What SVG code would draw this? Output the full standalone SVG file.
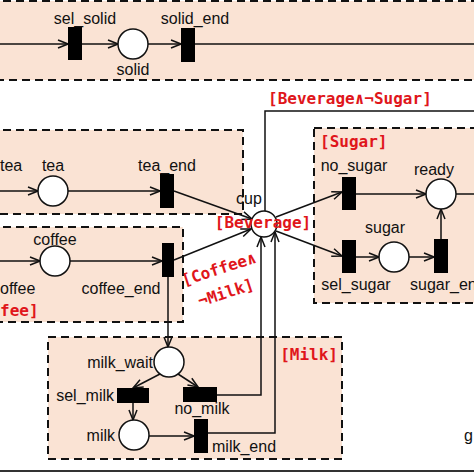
<svg xmlns="http://www.w3.org/2000/svg" width="474" height="474" viewBox="0 0 474 474">
<style>
.box{fill:#FAE3D4;stroke:#111;stroke-width:2;stroke-dasharray:8 5}
.pl{fill:#fff;stroke:#111;stroke-width:1.5}
.tr{fill:#000}
.arc{fill:none;stroke:#111;stroke-width:1.5}
.lb{font-family:"Liberation Sans",Arial,sans-serif;font-size:16px;fill:#111}
.rd{font-family:"DejaVu Sans Mono","Liberation Mono",monospace;font-weight:bold;font-size:16px;fill:#E0161B}
</style>
<defs>
<marker id="ah" markerWidth="12" markerHeight="10" refX="11" refY="5" orient="auto" markerUnits="userSpaceOnUse">
<path d="M1,1 L11,5 L1,9" fill="none" stroke="#111" stroke-width="1.5"/>
</marker>
</defs>
<rect width="474" height="474" fill="#fff"/>
<g id="boxes">
<rect class="box" x="-10" y="1" width="494" height="79"/>
<rect class="box" x="-10" y="130" width="253" height="84"/>
<rect class="box" x="-10" y="227" width="193" height="95"/>
<rect class="box" x="314" y="128" width="200" height="175"/>
<rect class="box" x="48" y="337" width="294" height="122"/>
</g>
<line x1="0" y1="471" x2="474" y2="471" stroke="#333" stroke-width="2"/>
<g id="connectors">
<line class="arc" x1="0" y1="44" x2="68" y2="44" marker-end="url(#ah)"/>
<line class="arc" x1="82" y1="44" x2="118" y2="44" marker-end="url(#ah)"/>
<line class="arc" x1="148" y1="44" x2="181" y2="44" marker-end="url(#ah)"/>
<line class="arc" x1="195" y1="44" x2="474" y2="44"/>
<line class="arc" x1="0" y1="191" x2="38" y2="191" marker-end="url(#ah)"/>
<line class="arc" x1="68" y1="191" x2="160" y2="191" marker-end="url(#ah)"/>
<line class="arc" x1="0" y1="261" x2="40" y2="261" marker-end="url(#ah)"/>
<line class="arc" x1="70" y1="261" x2="162" y2="261" marker-end="url(#ah)"/>
<line class="arc" x1="174" y1="191" x2="252" y2="219" marker-end="url(#ah)"/>
<line class="arc" x1="174" y1="260" x2="251" y2="229" marker-end="url(#ah)"/>
<line class="arc" x1="168" y1="277" x2="168" y2="347" marker-end="url(#ah)"/>
<line class="arc" x1="160" y1="374" x2="133" y2="388" marker-end="url(#ah)"/>
<line class="arc" x1="178" y1="374" x2="198" y2="387" marker-end="url(#ah)"/>
<line class="arc" x1="133" y1="403" x2="133" y2="420" marker-end="url(#ah)"/>
<line class="arc" x1="149" y1="436" x2="194" y2="436" marker-end="url(#ah)"/>
<polyline class="arc" points="217,395 261,395 261,237" marker-end="url(#ah)"/>
<polyline class="arc" points="208,433 275,433 275,232" marker-end="url(#ah)"/>
<polyline class="arc" points="265,211 265,111 474,111"/>
<line class="arc" x1="276" y1="217" x2="342" y2="192" marker-end="url(#ah)"/>
<line class="arc" x1="276" y1="231" x2="342" y2="256" marker-end="url(#ah)"/>
<line class="arc" x1="356" y1="194" x2="426" y2="194" marker-end="url(#ah)"/>
<line class="arc" x1="456" y1="194" x2="474" y2="194"/>
<line class="arc" x1="356" y1="257" x2="379" y2="257" marker-end="url(#ah)"/>
<line class="arc" x1="409" y1="257" x2="434" y2="257" marker-end="url(#ah)"/>
<line class="arc" x1="441" y1="239" x2="441" y2="209" marker-end="url(#ah)"/>
</g>
<g id="sel_solid"><rect class="tr" x="68" y="27" width="14" height="33"/><text class="lb" x="85" y="24" text-anchor="middle">sel_solid</text></g>
<g id="solid"><circle class="pl" cx="133" cy="44" r="15"/><text class="lb" x="133" y="75" text-anchor="middle">solid</text></g>
<g id="solid_end"><rect class="tr" x="181" y="28" width="14" height="34"/><text class="lb" x="195" y="24" text-anchor="middle">solid_end</text></g>
<g id="tea_box_label"><text class="lb" x="0" y="171">tea</text></g>
<g id="tea"><circle class="pl" cx="53" cy="191" r="15"/><text class="lb" x="53" y="171" text-anchor="middle">tea</text></g>
<g id="tea_end"><rect class="tr" x="160" y="174" width="14" height="34"/><text class="lb" x="167" y="171" text-anchor="middle">tea_end</text></g>
<g id="coffee_box_label"><text class="lb" x="0" y="294">offee</text><text class="rd" x="0" y="316">fee]</text></g>
<g id="coffee"><circle class="pl" cx="55" cy="261" r="15"/><text class="lb" x="55" y="245" text-anchor="middle">coffee</text></g>
<g id="coffee_end"><rect class="tr" x="162" y="243" width="12" height="34"/><text class="lb" x="121" y="294" text-anchor="middle">coffee_end</text></g>
<g id="cup"><circle class="pl" cx="264" cy="224" r="13"/><text class="lb" x="249" y="204" text-anchor="middle">cup</text><text class="rd" x="263" y="228" text-anchor="middle">[Beverage]</text></g>
<g id="coffee_milk_label"><text class="rd" transform="translate(184,286) rotate(-18)">[Coffee∧</text><text class="rd" transform="translate(200,307) rotate(-18)">¬Milk]</text></g>
<g id="bev_sugar_label"><text class="rd" x="268" y="104">[Beverage∧¬Sugar]</text></g>
<g id="sugar_box_label"><text class="rd" x="320" y="147">[Sugar]</text></g>
<g id="no_sugar"><rect class="tr" x="342" y="177" width="14" height="33"/><text class="lb" x="354" y="171" text-anchor="middle">no_sugar</text></g>
<g id="ready"><circle class="pl" cx="441" cy="194" r="15"/><text class="lb" x="434" y="175" text-anchor="middle">ready</text></g>
<g id="sel_sugar"><rect class="tr" x="342" y="240" width="14" height="33"/><text class="lb" x="356" y="290" text-anchor="middle">sel_sugar</text></g>
<g id="sugar"><circle class="pl" cx="394" cy="257" r="15"/><text class="lb" x="385" y="233" text-anchor="middle">sugar</text></g>
<g id="sugar_end"><rect class="tr" x="434" y="239" width="14" height="34"/><text class="lb" x="410" y="290">sugar_end</text></g>
<g id="milk_box_label"><text class="rd" x="338" y="360" text-anchor="end">[Milk]</text></g>
<g id="milk_wait"><circle class="pl" cx="169" cy="362" r="15"/><text class="lb" x="153" y="368" text-anchor="end">milk_wait</text></g>
<g id="sel_milk"><rect class="tr" x="117" y="388" width="32" height="15"/><text class="lb" x="114" y="401" text-anchor="end">sel_milk</text></g>
<g id="no_milk"><rect class="tr" x="183" y="387" width="34" height="15"/><text class="lb" x="202" y="414" text-anchor="middle">no_milk</text></g>
<g id="milk"><circle class="pl" cx="134" cy="435" r="15"/><text class="lb" x="115" y="441" text-anchor="end">milk</text></g>
<g id="milk_end"><rect class="tr" x="194" y="419" width="14" height="34"/><text class="lb" x="212" y="452">milk_end</text></g>
<g id="edge_label"><text class="lb" x="464" y="441">g</text></g>
</svg>
